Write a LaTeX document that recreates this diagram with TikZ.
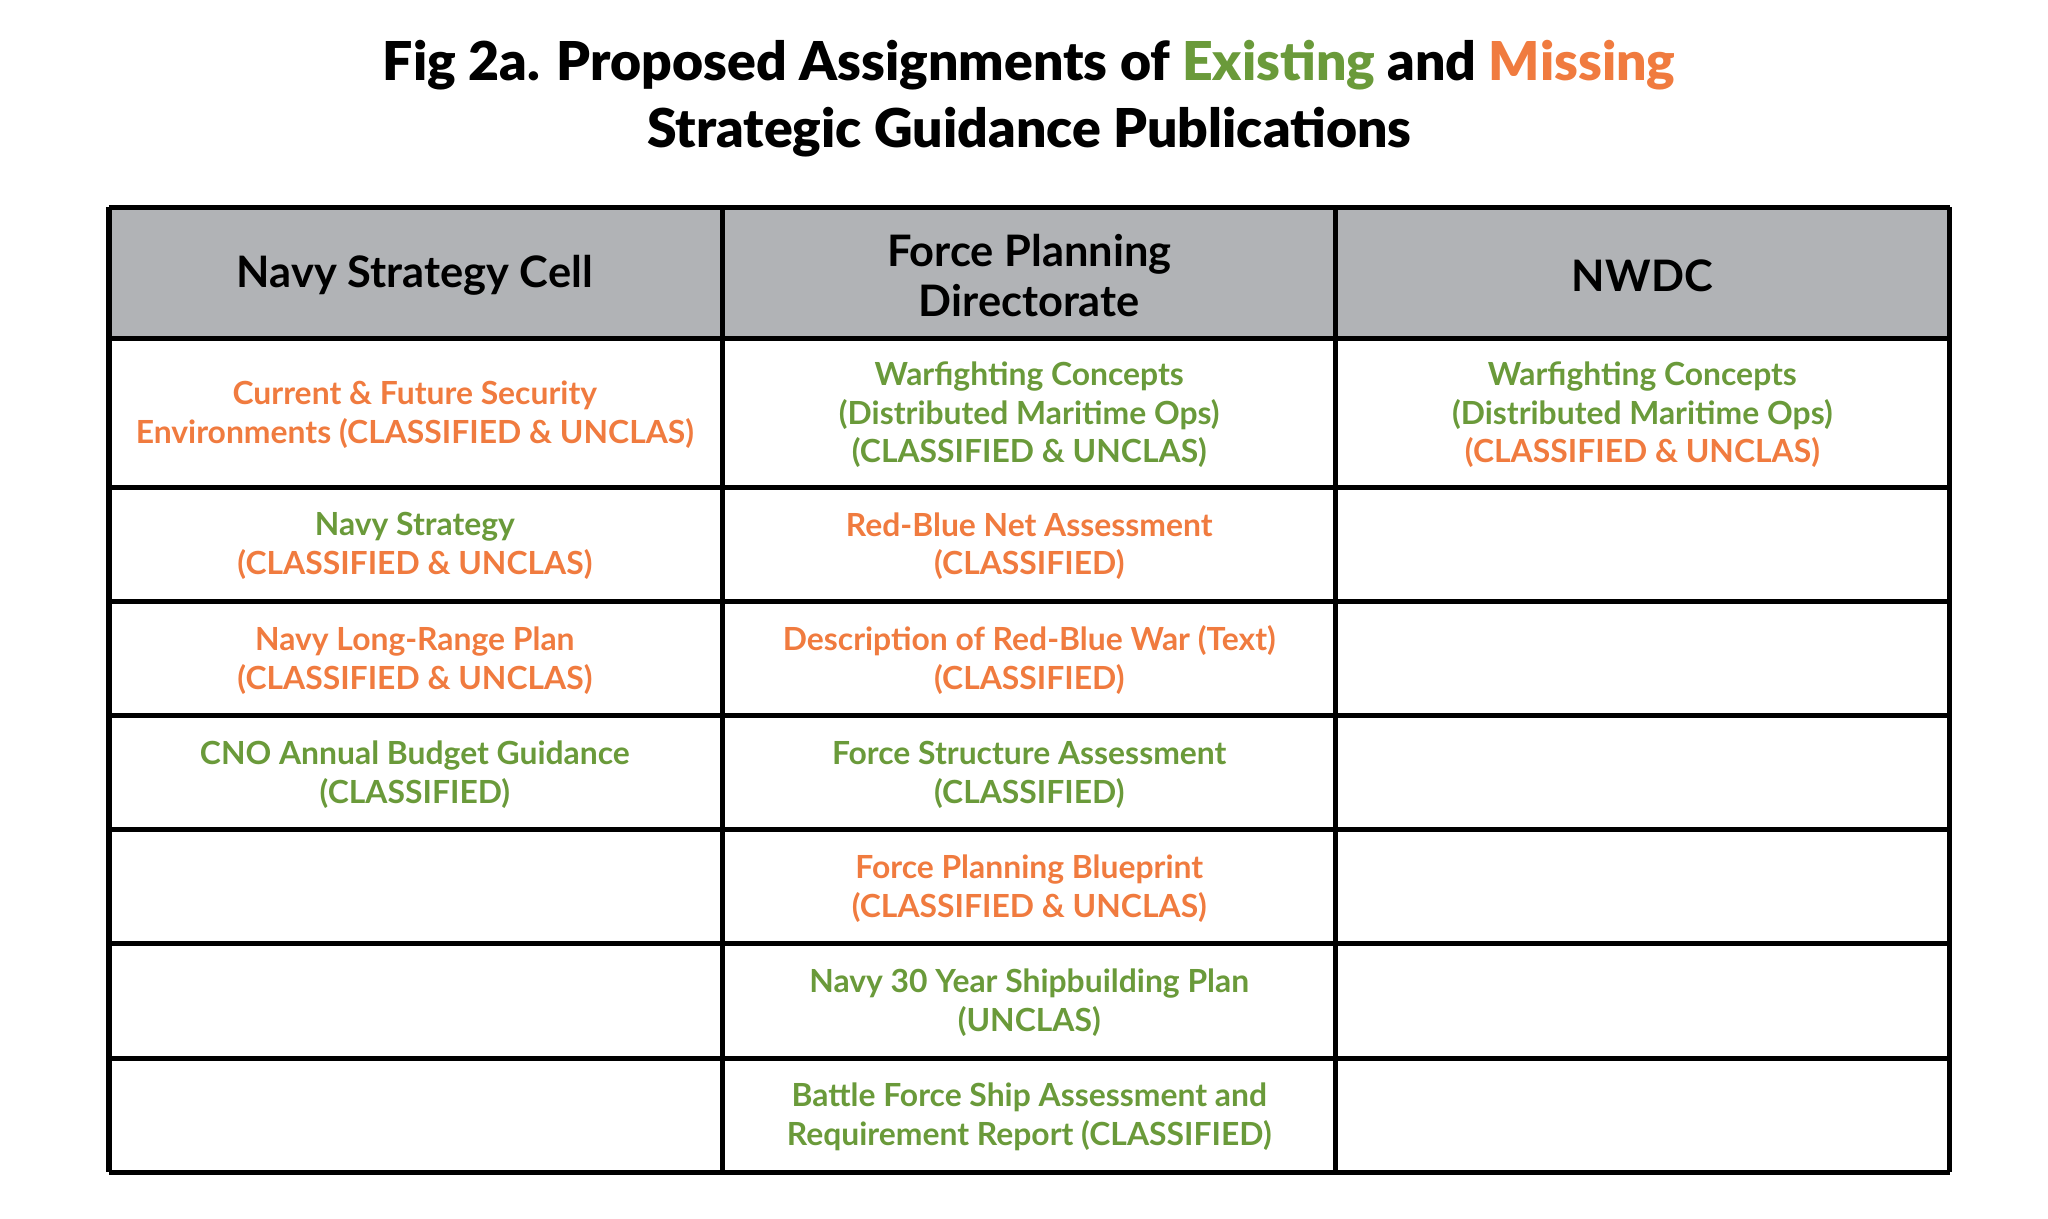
\documentclass[tikz,border=0pt]{standalone}
\usepackage{fontspec}
\setmainfont{Lato}
\usetikzlibrary{positioning}
\definecolor{exist}{HTML}{6A9A3A}
\definecolor{miss}{HTML}{F07B3F}
\definecolor{headgray}{HTML}{B1B3B6}
\tikzset{
  grid/.style={line width=1.1pt,black},
  head/.style={font=\fontsize{9.4}{10.8}\selectfont\bfseries,align=center},
  cell/.style={font=\fontsize{6.9}{8.4}\selectfont\bfseries,align=center},
  ttl/.style={font=\fontsize{11.6}{14.5}\selectfont\fontspec{Lato Black},align=center}
}
\begin{document}
\begin{tikzpicture}[x=0.01cm,y=-0.01cm]
\useasboundingbox (0,0) rectangle (1560,928);
% title
\node[ttl] (title) at (784,75) {Fig 2a. Proposed Assignments of \textcolor{exist}{Existing} and \textcolor{miss}{Missing}\\Strategic Guidance Publications};
% header and grid
\fill[headgray] (83,158) rectangle (1485,258);
\foreach \y in {158,258,371,458,545,632,719,806,893}
  \draw[grid] (83,\y) -- (1485,\y);
\foreach \x in {83,550,1017,1485}
  \draw[grid] (\x,158) -- (\x,893);
\node[head] (h1) at (316,210) {Navy Strategy Cell};
\node[head] (h2) at (784,210) {Force Planning\\Directorate};
\node[head] (h3) at (1251,210) {NWDC};
% column 1
\node[cell,miss] (a1) at (316,316) {Current \& Future Security\\Environments (CLASSIFIED \& UNCLAS)};
\node[cell] (a2) at (316,416) {\textcolor{exist}{Navy Strategy}\\\textcolor{miss}{(CLASSIFIED \& UNCLAS)}};
\node[cell,miss] (a3) at (316,503) {Navy Long-Range Plan\\(CLASSIFIED \& UNCLAS)};
\node[cell,exist] (a4) at (316,590) {CNO Annual Budget Guidance\\(CLASSIFIED)};
% column 2
\node[cell,exist] (b1) at (784,316) {Warfighting Concepts\\(Distributed Maritime Ops)\\(CLASSIFIED \& UNCLAS)};
\node[cell,miss] (b2) at (784,416) {Red-Blue Net Assessment\\(CLASSIFIED)};
\node[cell,miss] (b3) at (784,503) {Description of Red-Blue War (Text)\\(CLASSIFIED)};
\node[cell,exist] (b4) at (784,590) {Force Structure Assessment\\(CLASSIFIED)};
\node[cell,miss] (b5) at (784,677) {Force Planning Blueprint\\(CLASSIFIED \& UNCLAS)};
\node[cell,exist] (b6) at (784,764) {Navy 30 Year Shipbuilding Plan\\(UNCLAS)};
\node[cell,exist] (b7) at (784,851) {Battle Force Ship Assessment and\\Requirement Report (CLASSIFIED)};
% column 3
\node[cell] (c1) at (1251,316) {\textcolor{exist}{Warfighting Concepts}\\\textcolor{exist}{(Distributed Maritime Ops)}\\\textcolor{miss}{(CLASSIFIED \& UNCLAS)}};
\end{tikzpicture}
\end{document}
